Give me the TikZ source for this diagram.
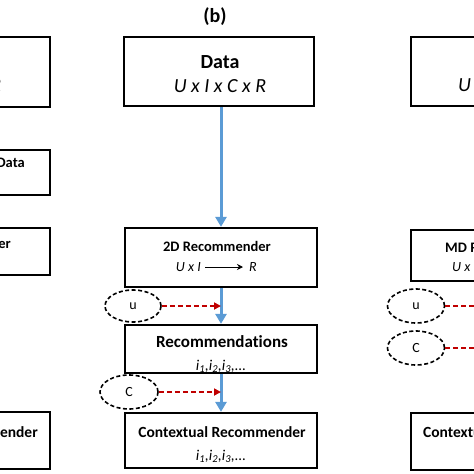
\documentclass[tikz,border=0pt]{standalone}
\usepackage{fontspec}
\setmainfont{Carlito}[Ligatures=NoCommon]
\usetikzlibrary{arrows.meta,shapes.geometric}
\definecolor{bluearr}{RGB}{91,155,213}
\definecolor{redarr}{RGB}{192,0,0}
\begin{document}
\begin{tikzpicture}[x=1pt,y=-1pt,
  box/.style={draw=black,line width=2.2pt,rectangle,minimum width=190pt,inner sep=0pt},
  bigttl/.style={inner sep=0pt,font=\bfseries\fontsize{20}{22}\selectfont},
  bigfrm/.style={inner sep=0pt,font=\itshape\fontsize{20}{22}\selectfont},
  ttl/.style={inner sep=0pt,font=\bfseries\fontsize{14.5}{16}\selectfont},
  ttlb/.style={inner sep=0pt,font=\bfseries\fontsize{17}{19}\selectfont},
  ttlc/.style={inner sep=0pt,font=\bfseries\fontsize{15.5}{17}\selectfont},
  frm/.style={inner sep=0pt,font=\itshape\fontsize{14}{16}\selectfont},
  frmb/.style={inner sep=0pt,font=\itshape\fontsize{15}{17}\selectfont},
  ctxell/.style={draw=black,dash pattern=on 4pt off 2.5pt,line width=1.6pt,ellipse,inner sep=0pt,font=\fontsize{14}{16}\selectfont},
  flow/.style={draw=bluearr,line width=3pt,-{Triangle[width=11pt,length=10pt]}},
  inject/.style={draw=redarr,line width=2pt,dash pattern=on 5pt off 3pt,-{Triangle[width=7pt,length=7pt]}},
  thinarr/.style={draw=black,line width=0.9pt,-{Stealth[width=6pt,length=6pt]}}
]
\useasboundingbox (0,0) rectangle (474,474);
\clip (0,0) rectangle (474,474);

% ---------- left panel (cut off) ----------
\node[box,minimum height=70pt] (lbox1) at (-45,72) {};
\node[bigfrm] (lfor1) at (-45,85) {U x I x C x R};
\node[box,minimum height=45pt] (lbox2) at (-45,172.5) {};
\node[ttl,anchor=east] (ltxt2) at (25,163) {Data};
\node[box,minimum height=47pt] (lbox3) at (-45,251.5) {};
\node[ttl,anchor=east] (ltxt3) at (11,243) {2D Recommender};
\node[box,minimum height=57pt] (lbox4) at (-45,440.5) {};
\node[ttlc,anchor=east] (ltxt4) at (38,432) {Contextual Recommender};

% ---------- middle panel (b) ----------
\node[bigttl] (lab) at (215,17) {(b)};
\node[box,minimum height=69pt] (data) at (219,71.5) {};
\node[bigttl] (datat) at (220,62) {Data};
\node[bigfrm] (dataf) at (220,86) {U x I x C x R};

\node[box,minimum width=192pt,minimum height=59pt] (rec2d) at (221,257.5) {};
\node[ttl] (rec2dt) at (217,246) {2D Recommender};
\node[frm,anchor=east] (uxi) at (201,267) {U x I};
\node[frm,anchor=west] (rr) at (249,267) {R};
\draw[thinarr,shorten <=4pt,shorten >=6pt] (uxi.east) -- (rr.west);

\node[box,minimum width=192pt,minimum height=48pt] (recs) at (221,349) {};
\node[ttlb] (recst) at (222,342) {Recommendations};
\node[frmb] (recsf) at (221,366) {i\textsubscript{1},i\textsubscript{2},i\textsubscript{3},...};

\node[box,minimum width=192pt,minimum height=55pt] (ctx) at (221,440.5) {};
\node[ttlc] (ctxt) at (222,432) {Contextual Recommender};
\node[frmb] (ctxf) at (221,456) {i\textsubscript{1},i\textsubscript{2},i\textsubscript{3},...};

\node[ctxell,minimum width=56pt,minimum height=32pt] (mu) at (133,306) {u};
\node[ctxell,minimum width=58pt,minimum height=34pt] (mc) at (129,392) {C};

\draw[flow] (rec2d.north |- data.south) -- (rec2d.north);
\draw[flow] (rec2d.south) -- (recs.north);
\draw[flow] (recs.south) -- (ctx.north);
\draw[inject] (mu.east) -- (mu.east -| rec2d.north);
\draw[inject] (mc.east) -- (mc.east -| rec2d.north);

% ---------- right panel (cut off) ----------
\node[box,minimum height=69pt] (rbox1) at (506,71.5) {};
\node[bigfrm,anchor=west] (rfor1) at (458,85) {U x I x C x R};
\node[box,minimum height=51pt] (rmd) at (506,255.5) {};
\node[ttl,anchor=west] (rmdt) at (445,247) {MD Recommender};
\node[frm,anchor=west] (rmdf) at (452,267) {U x I x C};
\node[ctxell,minimum width=57pt,minimum height=34pt] (ru) at (416,306) {u};
\node[ctxell,minimum width=57pt,minimum height=34pt] (rc) at (416,348) {C};
\coordinate (rut) at (506,306);
\coordinate (rct) at (506,348);
\draw[inject] (ru.east) -- (rut);
\draw[inject] (rc.east) -- (rct);
\node[box,minimum height=57pt] (rctx) at (506,441.5) {};
\node[ttlc,anchor=west] (rctxt) at (423,432) {Contextual Recommender};
\end{tikzpicture}
\end{document}
